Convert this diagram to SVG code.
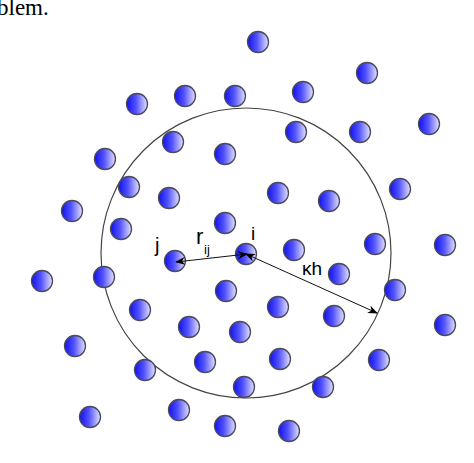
<svg xmlns="http://www.w3.org/2000/svg" width="474" height="463" viewBox="0 0 474 463">
<defs>
<linearGradient id="g" x1="0" y1="0" x2="1" y2="0">
<stop offset="0" stop-color="#1010f0"/>
<stop offset="0.45" stop-color="#5252ff"/>
<stop offset="1" stop-color="#e4e4ff"/>
</linearGradient>
<symbol id="ball" overflow="visible">
<circle cx="0" cy="0" r="10.5" fill="url(#g)" stroke="#4a4a5a" stroke-width="1.3"/>
</symbol>
<marker id="ah" viewBox="0 0 10 8" refX="9" refY="4" markerWidth="10" markerHeight="8" markerUnits="userSpaceOnUse" orient="auto-start-reverse">
<path d="M0,0 L10,4 L0,8 L3,4 Z" fill="#000"/>
</marker>
</defs>
<style>
.lbl{font-family:"Liberation Sans",Arial,sans-serif;fill:#000}
.arr{stroke:#111;stroke-width:1;fill:none}
</style>
<rect width="474" height="463" fill="#fff"/>
<text x="-3" y="15" font-family="'Liberation Serif','Times New Roman',serif" font-size="23" fill="#000">blem.</text>
<circle id="range" cx="246" cy="253" r="145" fill="none" stroke="#444" stroke-width="1.2"/>
<g id="particles">
<use href="#ball" x="258" y="42"/>
<use href="#ball" x="367" y="73"/>
<use href="#ball" x="137" y="104"/>
<use href="#ball" x="185" y="96"/>
<use href="#ball" x="235" y="96"/>
<use href="#ball" x="303" y="92"/>
<use href="#ball" x="429" y="124"/>
<use href="#ball" x="296" y="132"/>
<use href="#ball" x="360" y="132"/>
<use href="#ball" x="173" y="142"/>
<use href="#ball" x="225" y="154"/>
<use href="#ball" x="105" y="159"/>
<use href="#ball" x="129" y="187"/>
<use href="#ball" x="169" y="198"/>
<use href="#ball" x="278" y="193"/>
<use href="#ball" x="329" y="201"/>
<use href="#ball" x="400" y="189"/>
<use href="#ball" x="72" y="211"/>
<use href="#ball" x="121" y="229"/>
<use href="#ball" x="225" y="223"/>
<use href="#ball" x="294" y="250"/>
<use href="#ball" x="375" y="244"/>
<use href="#ball" x="445" y="245"/>
<use href="#ball" x="42" y="281"/>
<use href="#ball" x="104" y="277"/>
<use href="#ball" x="226" y="291"/>
<use href="#ball" x="339" y="274"/>
<use href="#ball" x="395" y="290"/>
<use href="#ball" x="140" y="310"/>
<use href="#ball" x="189" y="327"/>
<use href="#ball" x="278" y="307"/>
<use href="#ball" x="334" y="316"/>
<use href="#ball" x="445" y="325"/>
<use href="#ball" x="240" y="332"/>
<use href="#ball" x="75" y="346"/>
<use href="#ball" x="145" y="370"/>
<use href="#ball" x="205" y="362"/>
<use href="#ball" x="280" y="359"/>
<use href="#ball" x="379" y="360"/>
<use href="#ball" x="244" y="387"/>
<use href="#ball" x="323" y="387"/>
<use href="#ball" x="179" y="410"/>
<use href="#ball" x="90" y="417"/>
<use href="#ball" x="225" y="426"/>
<use href="#ball" x="289" y="431"/>
</g>
<g id="node-i"><use href="#ball" x="246" y="254"/><text class="lbl" x="251" y="240" font-size="19">i</text></g>
<g id="node-j"><use href="#ball" x="175" y="261"/><text class="lbl" x="155" y="252" font-size="20">j</text></g>
<g id="connectors">
<line class="arr" x1="247" y1="254" x2="176" y2="262" marker-start="url(#ah)" marker-end="url(#ah)"/>
<line class="arr" x1="246" y1="254" x2="377" y2="313" marker-start="url(#ah)" marker-end="url(#ah)"/>
</g>
<text class="lbl" x="196" y="244" font-size="22">r</text>
<text class="lbl" x="204" y="254" font-size="13">ij</text>
<text class="lbl" x="302" y="275" font-size="19">κh</text>
</svg>
